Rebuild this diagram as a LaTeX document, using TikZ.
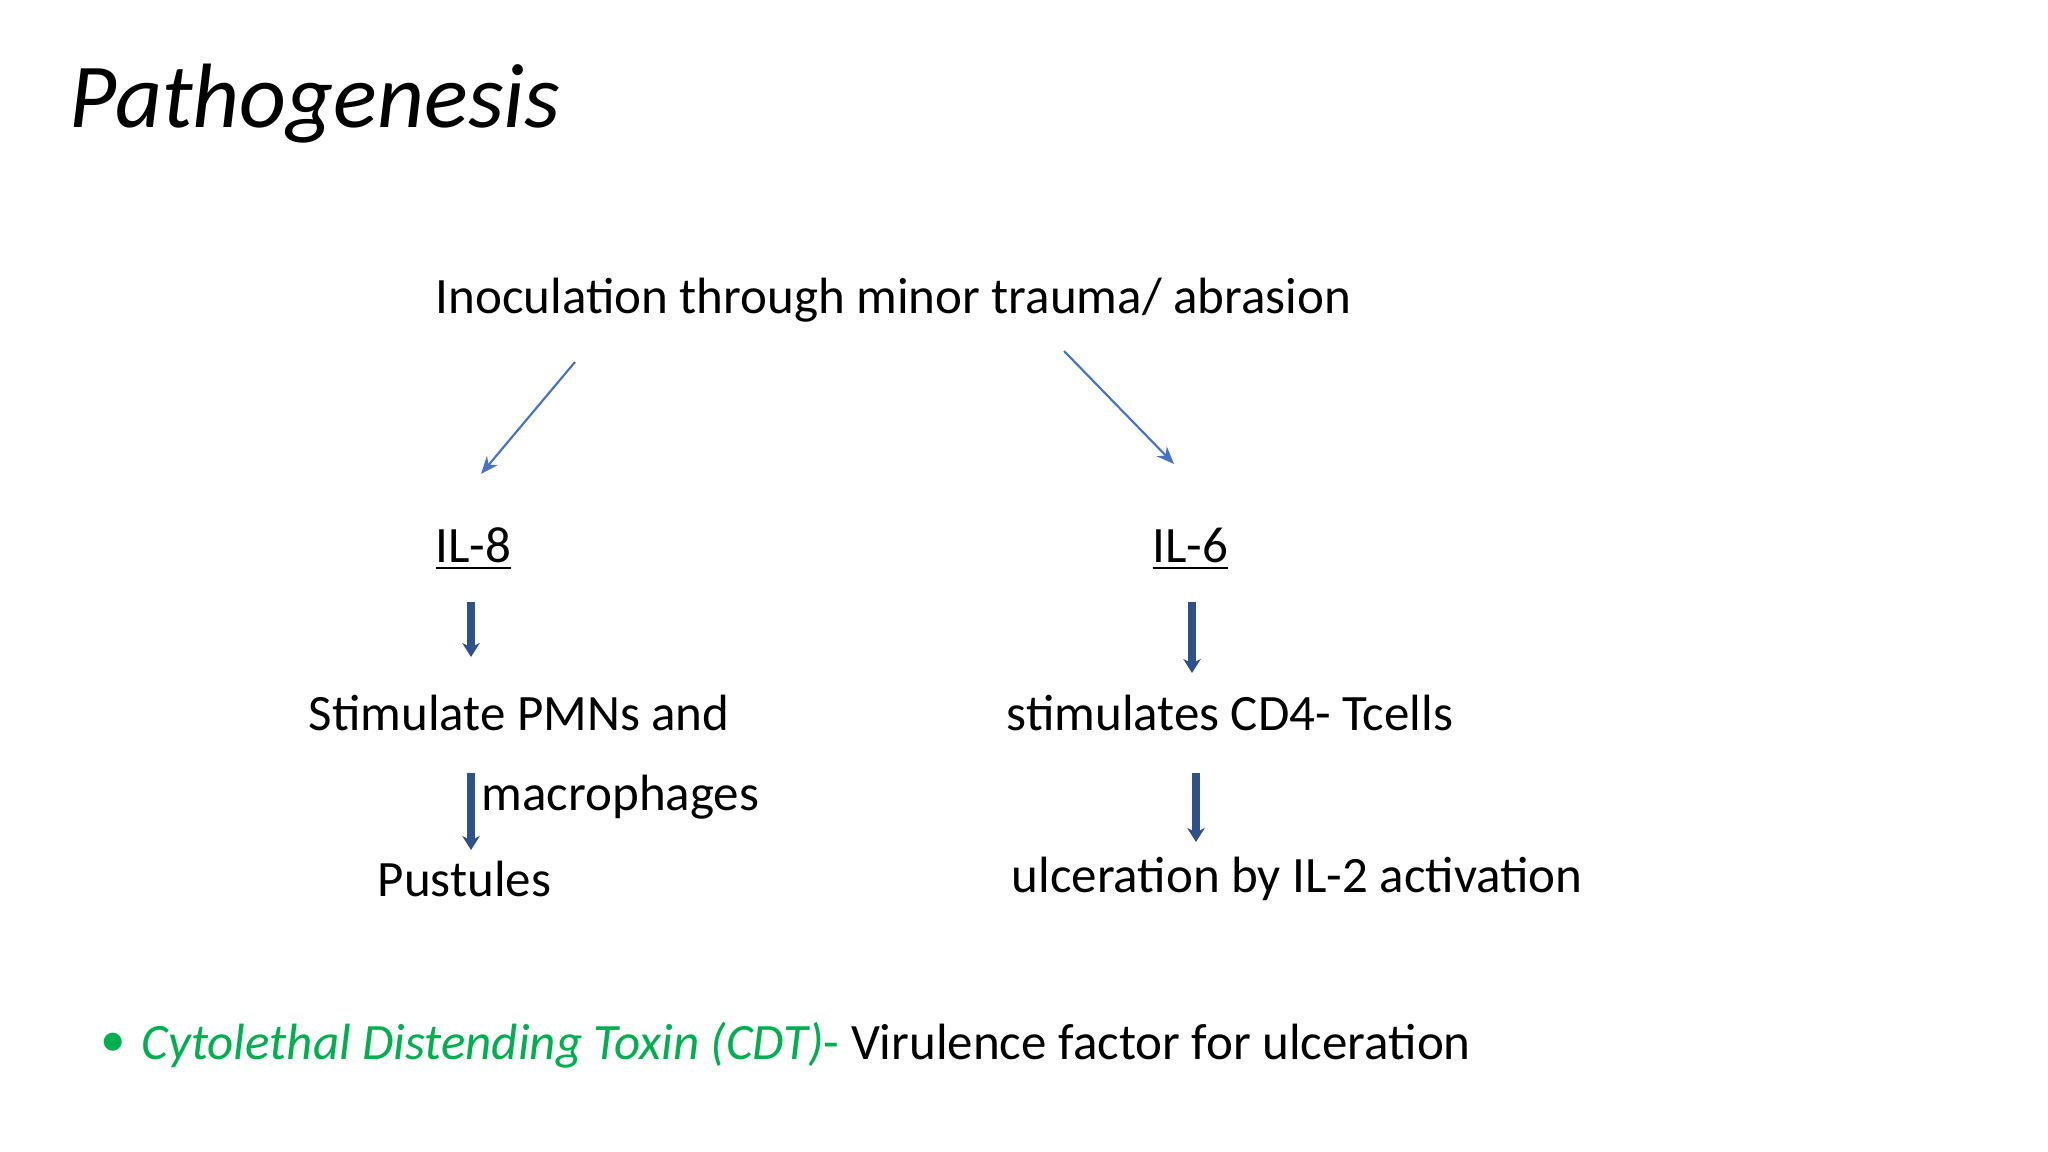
\documentclass[tikz,border=0pt]{standalone}
\usepackage{fontspec}
\setmainfont{Carlito}
\usetikzlibrary{arrows.meta}
\definecolor{arr}{RGB}{68,114,196}
\definecolor{grn}{RGB}{0,176,80}
\begin{document}
\begin{tikzpicture}[x=0.01cm,y=-0.01cm,
  t/.style={anchor=west,inner sep=0,font=\fontsize{14.5}{17}\selectfont},
  thin arr/.style={draw=arr,line width=0.6pt,-{Stealth[length=5pt,width=4pt]}},
  thick arr/.style={draw=arr!70!black,line width=2.2pt,-{Stealth[length=4pt,width=5pt]}}]
\useasboundingbox (0,0) rectangle (2048,1152);
\node[anchor=west,inner sep=0,font=\fontsize{26}{30}\selectfont\itshape] (title) at (69,104) {Pathogenesis};
\node[t] (ino) at (435,300) {Inoculation through minor trauma/ abrasion};
\node[t] (il8) at (435,549) {\underline{IL-8}};
\node[t] (il6) at (1152,549) {\underline{IL-6}};
\node[t] (pmn) at (308,713) {Stimulate PMNs and};
\node[t] (cd4) at (1006,713) {stimulates CD4- Tcells};
\node[t] (mac) at (481,797) {macrophages};
\node[t] (pus) at (377,879) {Pustules};
\node[t] (ulc) at (1011,879) {ulceration by IL-2 activation};
\node[t] (bul) at (100,1045) {\textcolor{grn}{•}};
\node[t] (cdt) at (141,1045) {\textcolor{grn}{\itshape Cytolethal Distending Toxin (CDT)}\textcolor{grn}{-} Virulence factor for ulceration};
\coordinate (a1s) at (575,362); \coordinate (a1e) at (481,474);
\coordinate (a2s) at (1064,351); \coordinate (a2e) at (1174,464);
\coordinate (b1s) at (471,602); \coordinate (b1e) at (471,657);
\coordinate (b2s) at (1192,602); \coordinate (b2e) at (1192,673);
\coordinate (c1s) at (471,773); \coordinate (c1e) at (471,850);
\coordinate (c2s) at (1196,773); \coordinate (c2e) at (1196,842);
\draw[thin arr] (a1s) -- (a1e);
\draw[thin arr] (a2s) -- (a2e);
\draw[thick arr] (b1s) -- (b1e);
\draw[thick arr] (b2s) -- (b2e);
\draw[thick arr] (c1s) -- (c1e);
\draw[thick arr] (c2s) -- (c2e);
\end{tikzpicture}
\end{document}
